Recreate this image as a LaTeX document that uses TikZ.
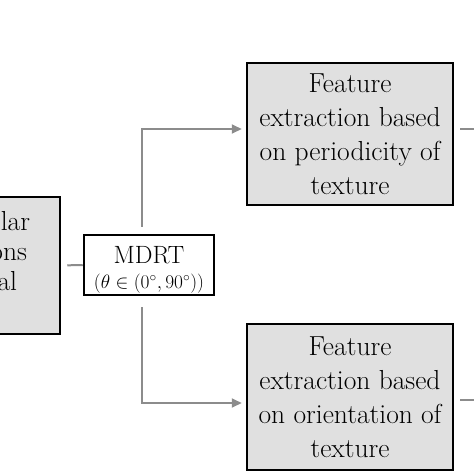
\documentclass[tikz,border=0pt]{standalone}
\usetikzlibrary{arrows.meta}
\definecolor{boxgray}{HTML}{E0E0E0}
\definecolor{linegray}{HTML}{8C8C8C}
\begin{document}
\begin{tikzpicture}[x=1pt,y=-1pt,
  bigfont/.style={font=\fontsize{27.5}{34}\selectfont},
  graybox/.style={draw=black,line width=2.5pt,fill=boxgray,minimum width=206pt,inner sep=0pt,align=center,bigfont},
  whitebox/.style={draw=black,line width=2.5pt,fill=white,minimum width=130pt,minimum height=60pt,inner sep=0pt},
  conn/.style={draw=linegray,line width=2pt},
  arr/.style={conn,-{Triangle[length=10pt,width=9pt]}}]
\useasboundingbox (0,0) rectangle (474,474);
\clip (0,0) rectangle (474,474);
% input box (cut off at the left)
\node[graybox, minimum width=140pt, minimum height=137pt, text width=80pt, align=right,
      font=\fontsize{27.5}{30}\selectfont] (input) at (-10,265.5)
  {lar\\ons\rule{3pt}{0pt}\\al\rule{13pt}{0pt}\\\mbox{}};
% MDRT
\node[whitebox, font=\fontsize{17.28}{21}\selectfont] (mdrt) at (149,265)
  {\raisebox{-5.5pt}[\height][\depth]{\begin{tabular}{@{}c@{}}{\fontsize{25}{25}\selectfont MDRT}\\[4pt]\scalebox{1.12}{$(\theta\in(0^\circ, 90^\circ))$}\end{tabular}}};
% feature boxes
\node[graybox, minimum height=142pt] (top) at (350,134) {Feature\\extraction based\\on periodicity of\\texture};
\node[graybox, minimum height=146pt] (bot) at (350,397) {Feature\\extraction based\\on orientation of\\texture};
% connectors
\draw[conn, shorten <=6pt] (input) -- (mdrt);
\draw[arr, shorten <=7pt, shorten >=4pt] ([xshift=-7pt]mdrt.north) |- ([yshift=5pt]top.west);
\draw[arr, shorten <=11pt, shorten >=4pt] ([xshift=-7pt]mdrt.south) |- ([yshift=-6pt]bot.west);
\coordinate (out1) at (476,129);
\coordinate (out2) at (476,400);
\draw[conn, shorten <=6pt] ([yshift=5pt]top.east) -- (out1);
\draw[conn, shorten <=6pt] ([yshift=-3pt]bot.east) -- (out2);
\end{tikzpicture}
\end{document}
